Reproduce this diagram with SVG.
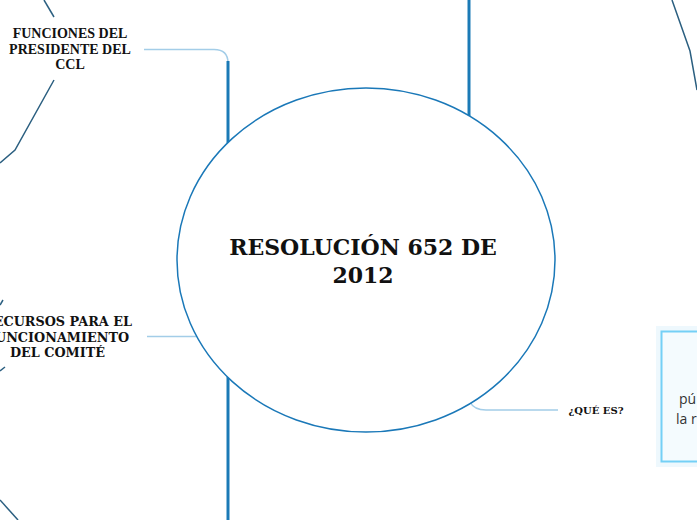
<svg xmlns="http://www.w3.org/2000/svg" width="697" height="520" viewBox="0 0 697 520">
<style>
.trunk{fill:none;stroke:#1b7ab6;stroke-width:3}
.light{fill:none;stroke:#a3cde8;stroke-width:1.5}
.dark{fill:none;stroke:#2b5f80;stroke-width:1.5}
.lab{font-family:"Liberation Serif",serif;font-weight:bold;fill:#111;text-anchor:middle}
.lab2{font-family:"DejaVu Serif",serif;font-weight:bold;fill:#111;text-anchor:middle}
</style>
<defs>
<linearGradient id="g1" x1="144" y1="0" x2="228" y2="0" gradientUnits="userSpaceOnUse">
<stop offset="0" stop-color="#b7dbef"/><stop offset="1" stop-color="#3b8fc6"/>
</linearGradient>
</defs>
<rect width="697" height="520" fill="#fff"/>
<g id="connectors">
<path class="light" d="M144,49.5 H214 Q228,49.5 228,63" stroke="url(#g1)"/>
<path class="trunk" d="M228,61 V143"/>
<path class="trunk" d="M469,0 V116"/>
<path class="trunk" d="M228,377 V520"/>
<path class="light" d="M147,336.5 H197"/>
<path class="light" d="M470,402 Q474,410 486,410 H558" stroke="#5aa6d6"/>
<path class="dark" d="M44,0 L54,17"/>
<path class="dark" d="M54,80 L15,150 L0,163"/>
<path class="dark" d="M0,305 L3,300"/>
<path class="dark" d="M0,371 L5,367"/>
<path class="dark" d="M0,500 L18,520"/>
<path class="dark" d="M672,0 L690,51 L697,90"/>
</g>
<g id="center">
<ellipse cx="366" cy="260" rx="189" ry="172" fill="#fff" stroke="#1a78b8" stroke-width="1.5"/>
<text class="lab2" x="363" y="255" font-size="22">RESOLUCIÓN 652 DE</text>
<text class="lab2" x="363" y="283" font-size="22">2012</text>
</g>
<g id="funciones">
<text class="lab" font-size="14" x="70" y="38">FUNCIONES DEL</text>
<text class="lab" font-size="14" x="70" y="53.5">PRESIDENTE DEL</text>
<text class="lab" font-size="14" x="70" y="69">CCL</text>
</g>
<g id="recursos">
<text class="lab2" font-size="12.8" x="57.5" y="326">RECURSOS PARA EL</text>
<text class="lab2" font-size="12.8" x="57.5" y="341.5">FUNCIONAMIENTO</text>
<text class="lab2" font-size="12.8" x="57.5" y="357">DEL COMITÉ</text>
</g>
<g id="quees">
<text class="lab2" font-size="10" x="596" y="414">¿QUÉ ES?</text>
</g>
<g id="box">
<rect x="656" y="326" width="60" height="141" fill="#eef8fd"/>
<rect x="661.5" y="331.5" width="60" height="130" fill="#f4fbfe" stroke="#74d0f6" stroke-width="2"/>
<text x="679" y="404" font-family="Open Sans, sans-serif" font-size="14" fill="#333">pú</text>
<text x="676" y="424" font-family="Open Sans, sans-serif" font-size="14" fill="#333">la r</text>
</g>
</svg>
